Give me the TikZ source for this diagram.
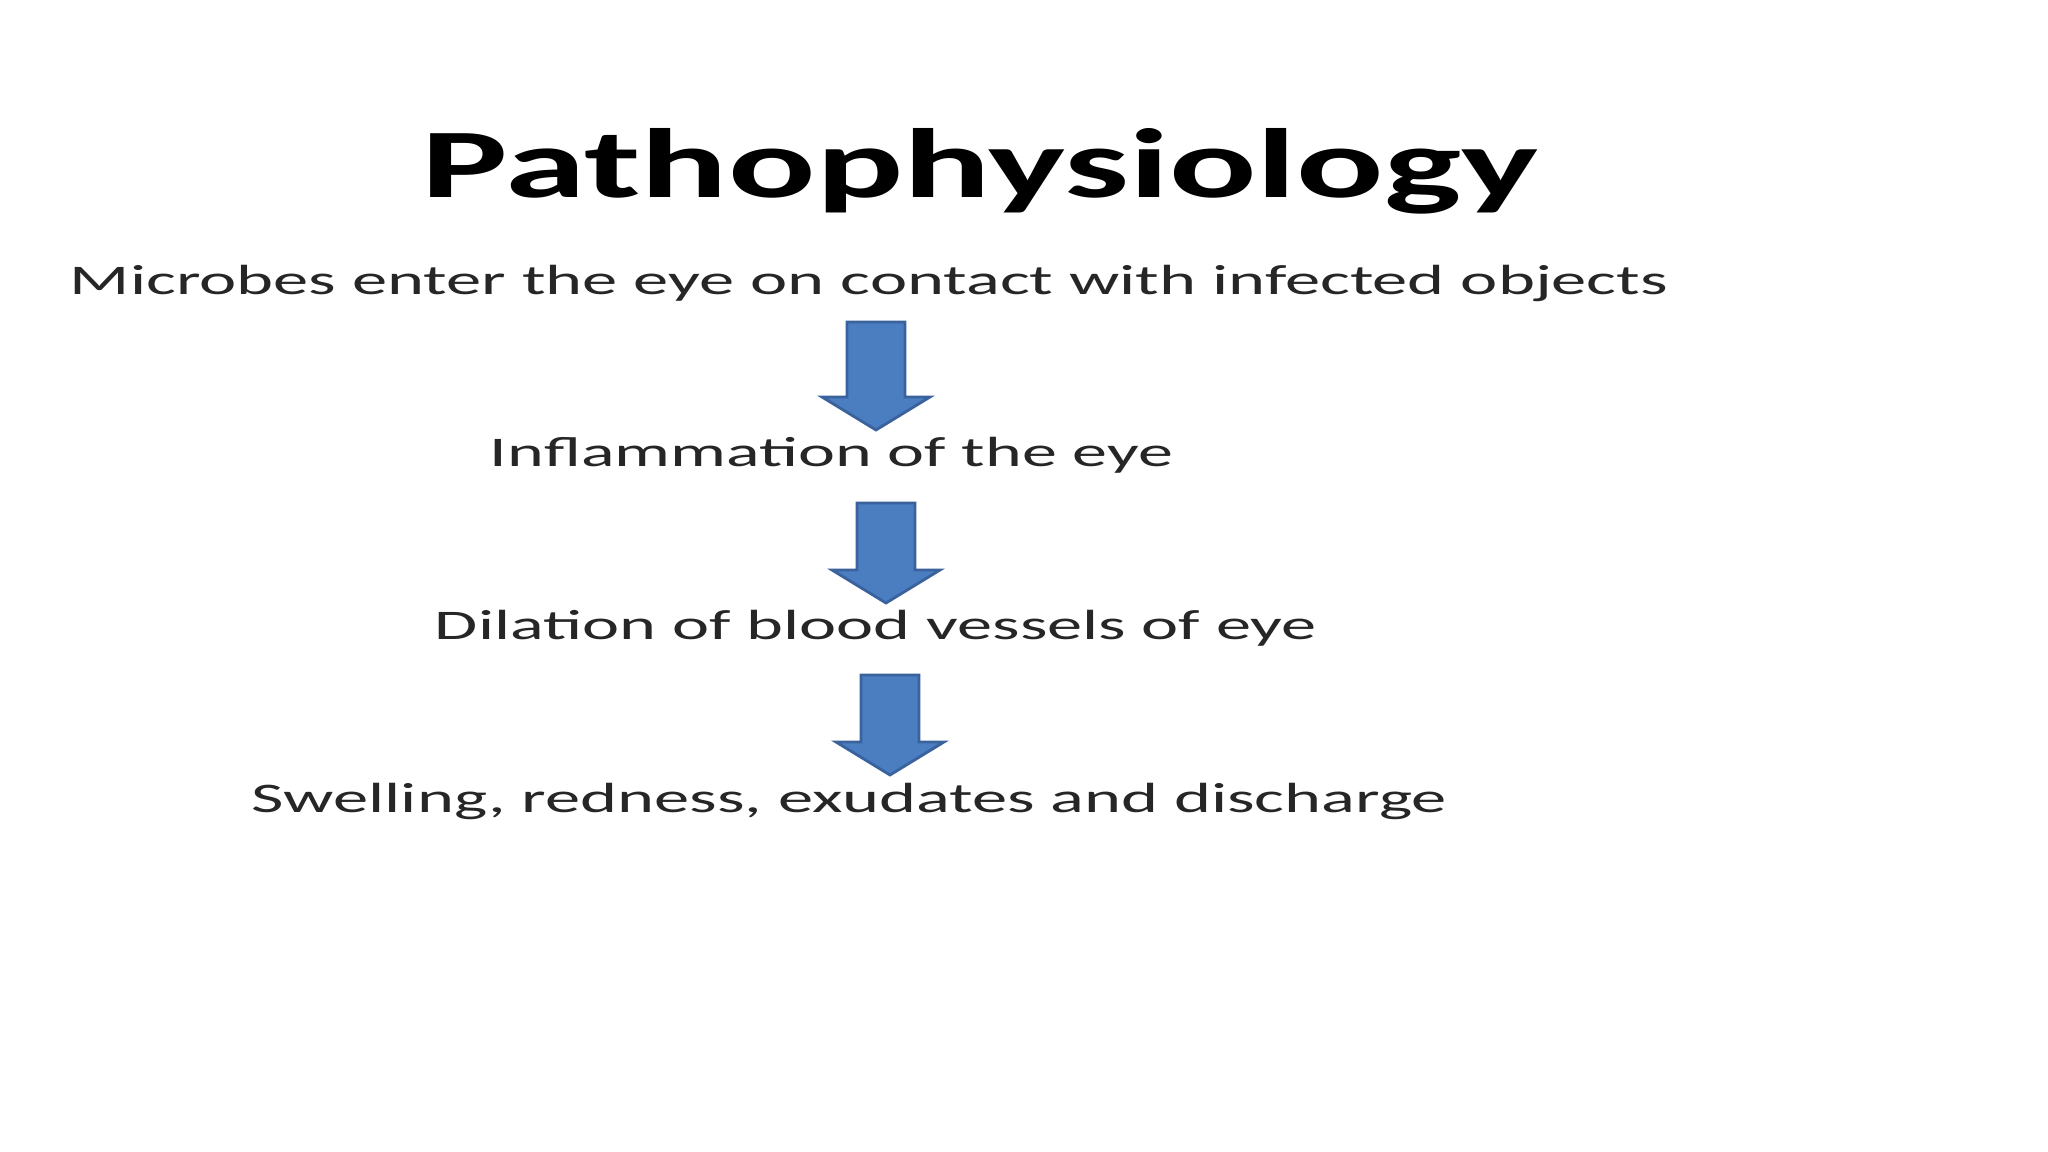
\documentclass[tikz,border=0pt]{standalone}
\usepackage{fontspec}
\setmainfont{Carlito}
\usepackage{graphicx}
\usetikzlibrary{positioning}
\definecolor{arrowblue}{RGB}{74,126,193}
\definecolor{arrowedge}{RGB}{58,98,156}
\newcommand{\fitto}[2]{\resizebox{#1}{\height}{#2}}

\tikzset{
  pics/downarrow/.style={code={
    \filldraw[fill=arrowblue, draw=arrowedge, line width=0.8pt]
      (-0.29,0) -- (0.29,0) -- (0.29,{-#1+0.33}) -- (0.54,{-#1+0.33}) -- (0,-#1)
      -- (-0.54,{-#1+0.33}) -- (-0.29,{-#1+0.33}) -- cycle;
  }}
}

\begin{document}
\begin{tikzpicture}[
  heading/.style={anchor=base, inner sep=0pt, font=\fontsize{28}{32}\selectfont\bfseries},
  stage/.style={anchor=base, inner sep=0pt, text=black!85, font=\fontsize{12}{14}\selectfont}
]
\useasboundingbox[fill=white] (0,0) rectangle (20.48,11.52);
\node[heading] (title) at (9.80,9.54) {\fitto{11.16cm}{Pathophysiology}};
\node[stage] (microbes) at (8.69,8.57) {\fitto{15.98cm}{Microbes enter the eye on contact with infected objects}};
\node[stage] (inflam) at (8.315,6.85) {\fitto{6.83cm}{Inflammation of the eye}};
\node[stage] (dilation) at (8.76,5.12) {\fitto{8.82cm}{Dilation of blood vessels of eye}};
\node[stage] (swelling) at (8.495,3.39) {\fitto{11.95cm}{Swelling, redness, exudates and discharge}};
\coordinate (a1) at (8.76,8.30);
\coordinate (a2) at (8.86,6.49);
\coordinate (a3) at (8.90,4.77);
\pic at (a1) {downarrow=1.08};
\pic at (a2) {downarrow=1.00};
\pic at (a3) {downarrow=1.00};
\end{tikzpicture}
\end{document}
